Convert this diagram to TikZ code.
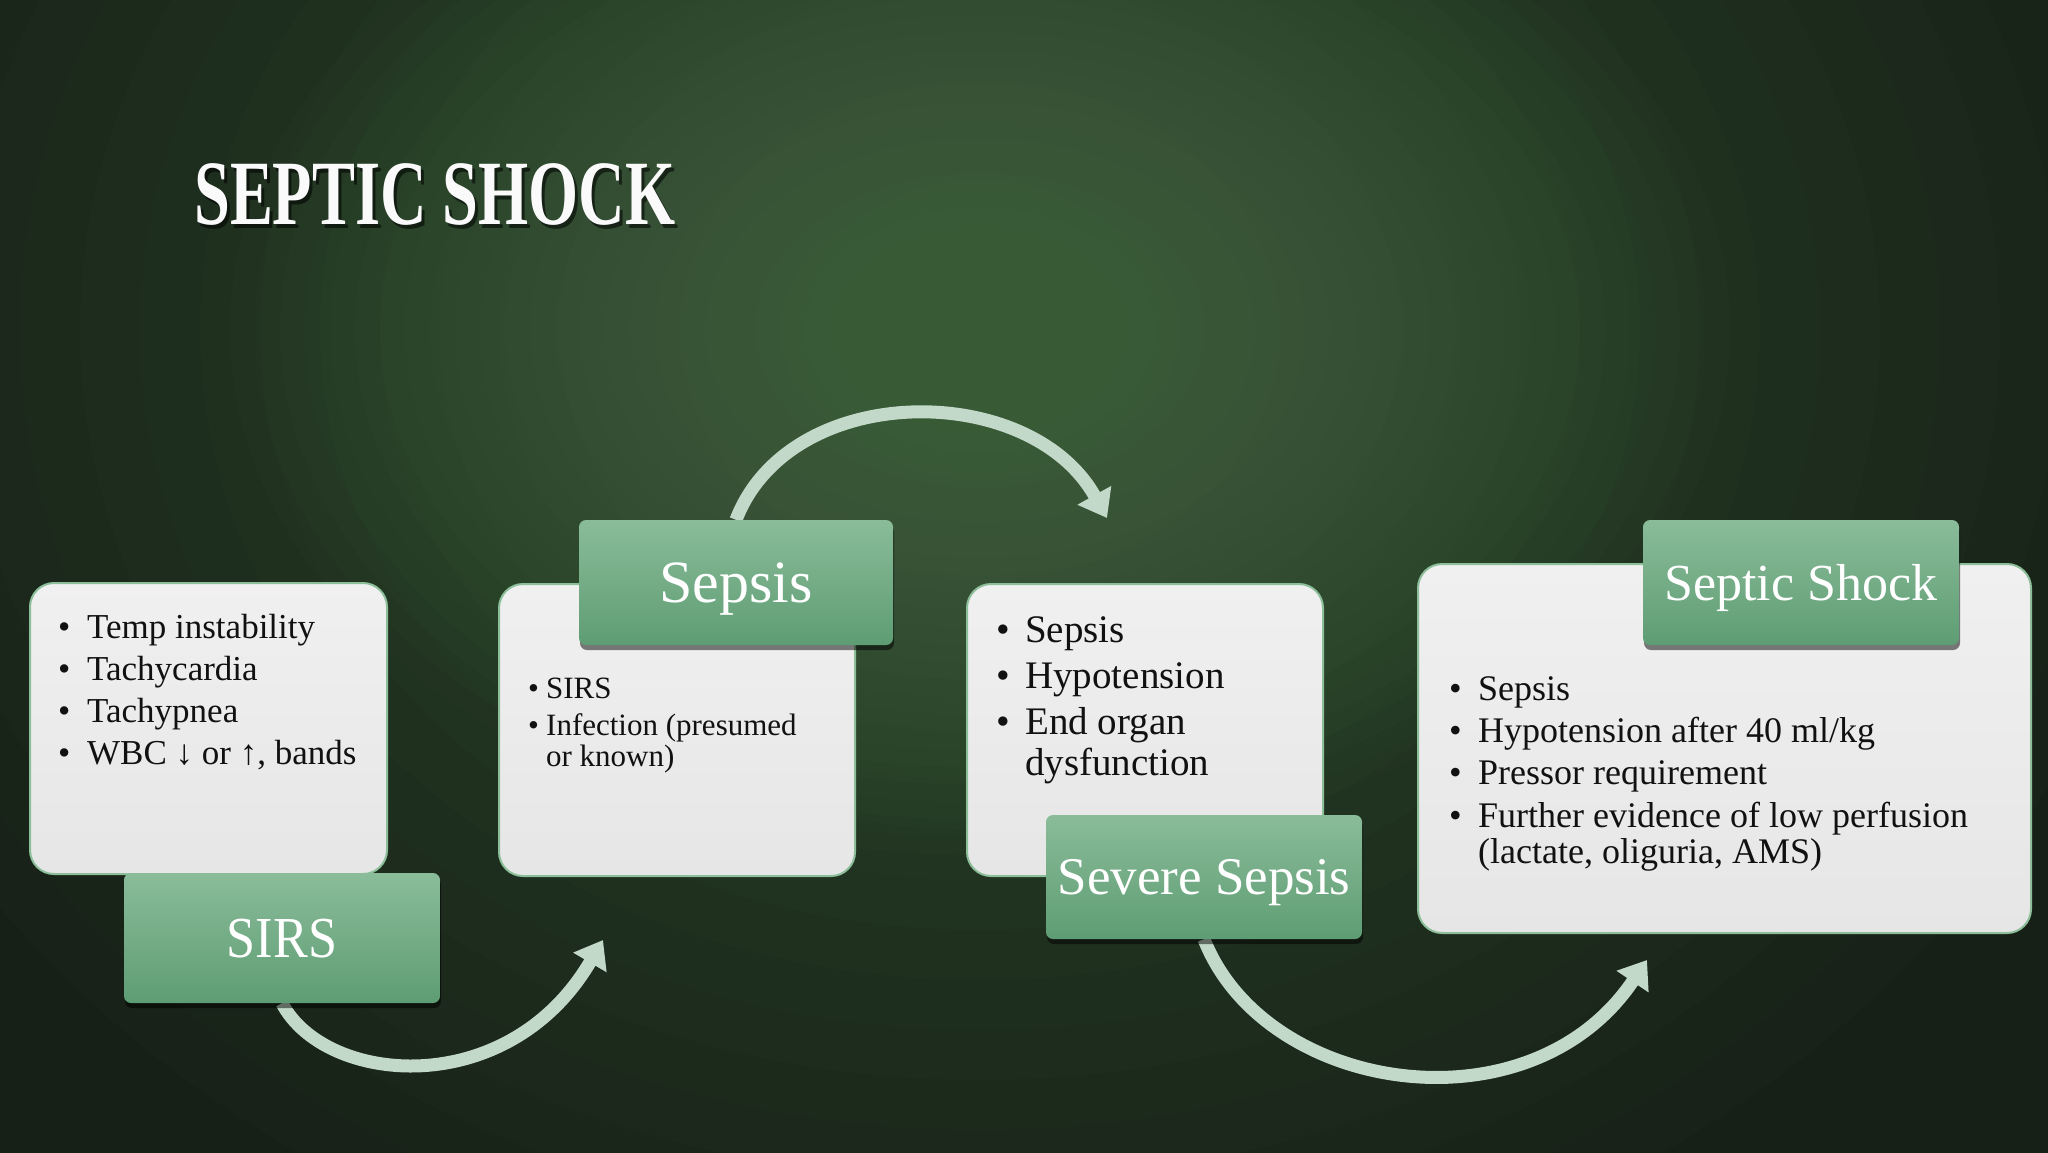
\documentclass[tikz,border=0pt]{standalone}
\usepackage{fontspec}
\setmainfont{Liberation Serif}
\usetikzlibrary{arrows.meta,shadows}
\definecolor{bgin}{HTML}{4F724D}
\definecolor{bgout}{HTML}{172017}
\definecolor{gtop}{HTML}{8ABC9A}
\definecolor{gbot}{HTML}{5E9D73}
\definecolor{wtop}{HTML}{F0F0F0}
\definecolor{wbot}{HTML}{E6E6E6}
\definecolor{wline}{HTML}{8CBE99}
\definecolor{arrowc}{HTML}{C2D8C8}
\definecolor{txt}{HTML}{111111}
\pgfdeclarelayer{back}
\pgfdeclarelayer{arrowlayer}
\pgfsetlayers{back,arrowlayer,main}
\newcommand{\bl}[1]{\makebox[#1][l]{\textbullet}}
\begin{document}
\begin{tikzpicture}[x=1pt,y=-1pt,
  wbox/.style={draw=wline, line width=2pt, rounded corners=24pt, top color=wtop, bottom color=wbot, inner sep=0pt},
  gbox/.style={rounded corners=7pt, top color=gtop, bottom color=gbot, text=white, inner sep=0pt,
     drop shadow={shadow xshift=1pt, shadow yshift=-5pt, opacity=0.5, fill=black}},
  listtxt/.style={text=txt, inner sep=0pt, anchor=base west, align=left},
  flowarrow/.style={line width=13pt, draw=arrowc, -{Triangle[width=37pt,length=26pt]}}
]
\useasboundingbox (0,0) rectangle (2048,1152);
\begin{pgfonlayer}{back}
\fill[bgout] (-20,-20) rectangle (2068,1172);
\begin{scope}
\clip (-20,-20) rectangle (2068,1172);
\foreach \i in {0,...,19}{
  \fill[bgin, opacity=0.035] (980,330) ellipse ({60*(20-\i)} and {50*(20-\i)});
}
\foreach \i in {0,...,29}{
  \fill[bgin, opacity=0.045] (980,330) ellipse ({25*(30-\i)} and {17.5*(30-\i)});
}
\end{scope}
\end{pgfonlayer}

% title
\node[text=black, opacity=0.55, inner sep=0pt, anchor=base west, font=\bfseries\fontsize{92}{96}\selectfont] (titleshadow) at (197,228) {\scalebox{0.70}[1]{SEPTIC SHOCK}};
\node[text=white!96!gray, inner sep=0pt, anchor=base west, font=\bfseries\fontsize{92}{96}\selectfont] (title) at (194,224) {\scalebox{0.70}[1]{SEPTIC SHOCK}};

% white boxes
\node[wbox, minimum width=357pt, minimum height=291pt] (sirsw) at (208.5,728.5) {};
\node[wbox, minimum width=356pt, minimum height=292pt] (sepw) at (677,730) {};
\node[wbox, minimum width=356pt, minimum height=292pt] (sevw) at (1145,730) {};
\node[wbox, minimum width=613pt, minimum height=369pt] (shkw) at (1724.5,748.5) {};

% list texts
\node[listtxt, font=\fontsize{35}{42}\selectfont] (sirst) at (58,638)
 {\begin{tabular}[t]{@{}l@{}}\bl{29pt}Temp instability\\ \bl{29pt}Tachycardia\\ \bl{29pt}Tachypnea\\ \bl{29pt}WBC ↓ or ↑, bands\end{tabular}};
\node[listtxt, font=\fontsize{31}{30}\selectfont] (sept) at (528,698)
 {\begin{tabular}[t]{@{}l@{}}\bl{18pt}SIRS\\[7pt] \bl{18pt}Infection (presumed\\ \hspace*{18pt}or known)\end{tabular}};
\node[listtxt, font=\fontsize{39}{41}\selectfont] (sevt) at (996,642)
 {\begin{tabular}[t]{@{}l@{}}\bl{29pt}Sepsis\\[5pt] \bl{29pt}Hypotension\\[5pt] \bl{29pt}End organ\\ \hspace*{29pt}dysfunction\end{tabular}};
\node[listtxt, font=\fontsize{36}{35}\selectfont] (shkt) at (1449,700)
 {\begin{tabular}[t]{@{}l@{}}\bl{29pt}Sepsis\\[7pt] \bl{29pt}Hypotension after 40 ml/kg\\[7pt] \bl{29pt}Pressor requirement\\[7pt] \bl{29pt}Further evidence of low perfusion\\ \hspace*{29pt}(lactate, oliguria, AMS)\end{tabular}};

% green label boxes
\node[gbox, minimum width=316pt, minimum height=130pt, text height=38pt, text depth=0pt, font=\fontsize{58}{60}\selectfont] (sirsg) at (282,938) {\scalebox{0.9}[1]{SIRS}};
\node[gbox, minimum width=314pt, minimum height=125pt, text height=40pt, text depth=0pt, font=\fontsize{60}{62}\selectfont] (sepg) at (736,582.5) {Sepsis};
\node[gbox, minimum width=316pt, minimum height=124pt, text height=35pt, text depth=0pt, font=\fontsize{53}{55}\selectfont] (sevg) at (1204,877) {Severe Sepsis};
\node[gbox, minimum width=316pt, minimum height=125pt, text height=35pt, text depth=0pt, font=\fontsize{52}{54}\selectfont] (shkg) at (1801,582.5) {Septic Shock};

% connectors
\coordinate (e1) at (603,940);
\coordinate (e2) at (1107,518);
\coordinate (e3) at (1647,960);
\begin{pgfonlayer}{arrowlayer}
\draw[flowarrow] (sirsg.south) .. controls +(43,82) and +(-95,162) .. (e1);
\draw[flowarrow] (sepg.north) .. controls +(54,-140) and +(-77,-138) .. (e2);
\draw[flowarrow] (sevg.south) .. controls +(61,155) and +(-117,174) .. (e3);
\end{pgfonlayer}
\end{tikzpicture}
\end{document}
